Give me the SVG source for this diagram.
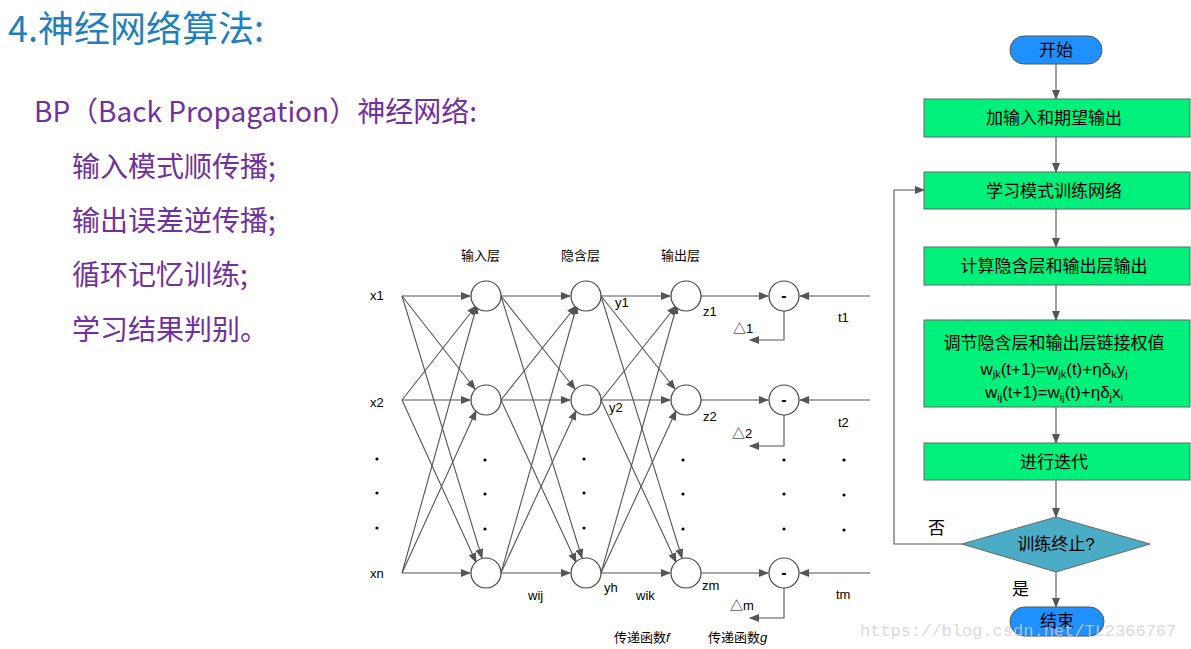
<svg xmlns="http://www.w3.org/2000/svg" width="1191" height="649" viewBox="0 0 1191 649">
<defs>
<marker id="a" markerWidth="10" markerHeight="8" refX="9" refY="4" orient="auto" markerUnits="userSpaceOnUse"><path d="M0,0 L10,4 L0,8 Z" fill="#555"/></marker>
<style>
.t{font-family:"Liberation Sans","Noto Sans CJK SC",sans-serif;fill:#000}
.s{font-size:13px}
.c{fill:#fff;stroke:#444;stroke-width:1.2}
.l{stroke:#555;stroke-width:1.1;fill:none;marker-end:url(#a)}
.b{fill:#00F07C;stroke:#666;stroke-width:1}
.f{font-size:17px;text-anchor:middle}
.p{font-family:"Noto Sans CJK SC",sans-serif;fill:#7030A0;font-size:28px}
.d{fill:#000}
</style>
</defs>
<rect width="1191" height="649" fill="#fff"/>
<text x="8" y="42" font-family="Noto Sans CJK SC,sans-serif" font-size="36" fill="#1F7FC0">4.神经网络算法:</text>
<text class="p" x="34" y="122">BP（Back Propagation）神经网络:</text>
<text class="p" x="72" y="177">输入模式顺传播;</text>
<text class="p" x="72" y="231">输出误差逆传播;</text>
<text class="p" x="72" y="285">循环记忆训练;</text>
<text class="p" x="72" y="340">学习结果判别。</text>

<g id="connectors">
<path class="l" d="M402,296 L470,296"/><path class="l" d="M402,296 L475,389"/><path class="l" d="M402,296 L482,558"/>
<path class="l" d="M402,400 L476,306"/><path class="l" d="M402,400 L470,400"/><path class="l" d="M402,400 L476,562"/>
<path class="l" d="M402,573 L477,305"/><path class="l" d="M402,573 L476,411"/><path class="l" d="M402,573 L470,573"/>
<path class="l" d="M501,296 L570,296"/><path class="l" d="M501,296 L575,389"/><path class="l" d="M501,296 L582,558"/>
<path class="l" d="M501,400 L576,306"/><path class="l" d="M501,400 L570,400"/><path class="l" d="M501,400 L576,562"/>
<path class="l" d="M501,573 L577,305"/><path class="l" d="M501,573 L576,411"/><path class="l" d="M501,573 L570,573"/>
<path class="l" d="M601,296 L670,296"/><path class="l" d="M601,296 L675,389"/><path class="l" d="M601,296 L682,558"/>
<path class="l" d="M601,400 L676,306"/><path class="l" d="M601,400 L670,400"/><path class="l" d="M601,400 L676,562"/>
<path class="l" d="M601,573 L677,305"/><path class="l" d="M601,573 L676,411"/><path class="l" d="M601,573 L670,573"/>
<path class="l" d="M701,296 L768,296"/><path class="l" d="M701,400 L768,400"/><path class="l" d="M701,573 L768,573"/>
<path class="l" d="M870,296 L800,296"/><path class="l" d="M870,400 L800,400"/><path class="l" d="M870,573 L800,573"/>
<path class="l" d="M784,311 L784,340 L750,340"/><path class="l" d="M784,415 L784,446 L750,446"/><path class="l" d="M784,588 L784,618 L750,618"/>
<path class="l" d="M1056,64 L1056,99"/><path class="l" d="M1056,137 L1056,172"/><path class="l" d="M1056,209 L1056,247"/>
<path class="l" d="M1056,285 L1056,320"/><path class="l" d="M1056,407 L1056,443"/><path class="l" d="M1056,480 L1056,517"/>
<path class="l" d="M1056,572 L1056,607"/><path class="l" d="M962,544 L894,544 L894,190 L924,190"/>
</g>

<g id="nodes">
<g id="i1"><circle class="c" cx="486" cy="296" r="15"/></g>
<g id="i2"><circle class="c" cx="486" cy="400" r="15"/></g>
<g id="i3"><circle class="c" cx="486" cy="573" r="15"/></g>
<g id="h1"><circle class="c" cx="586" cy="296" r="15"/></g>
<g id="h2"><circle class="c" cx="586" cy="400" r="15"/></g>
<g id="h3"><circle class="c" cx="586" cy="573" r="15"/></g>
<g id="o1"><circle class="c" cx="686" cy="296" r="15"/></g>
<g id="o2"><circle class="c" cx="686" cy="400" r="15"/></g>
<g id="o3"><circle class="c" cx="686" cy="573" r="15"/></g>
<g id="m1"><circle class="c" cx="784" cy="296" r="15"/><text class="t" x="784" y="301" font-size="16" font-weight="bold" text-anchor="middle">-</text></g>
<g id="m2"><circle class="c" cx="784" cy="400" r="15"/><text class="t" x="784" y="405" font-size="16" font-weight="bold" text-anchor="middle">-</text></g>
<g id="m3"><circle class="c" cx="784" cy="573" r="15"/><text class="t" x="784" y="578" font-size="16" font-weight="bold" text-anchor="middle">-</text></g>

<g id="start"><rect x="1010" y="36" width="92" height="28" rx="14" fill="#1E90FF" stroke="#555"/><text class="t f" x="1056" y="56">开始</text></g>
<g id="n1"><rect class="b" x="924" y="99" width="266" height="38"/><text class="t f" x="1054" y="124">加输入和期望输出</text></g>
<g id="n2"><rect class="b" x="924" y="172" width="266" height="37"/><text class="t f" x="1054" y="197">学习模式训练网络</text></g>
<g id="n3"><rect class="b" x="924" y="247" width="266" height="38"/><text class="t f" x="1054" y="272">计算隐含层和输出层输出</text></g>
<g id="n4"><rect class="b" x="924" y="320" width="266" height="87"/><text class="t f" x="1054" y="349">调节隐含层和输出层链接权值</text>
<text class="t f" x="1054" y="375" font-size="16">w<tspan font-size="11" dy="3">jk</tspan><tspan dy="-3">(t+1)=w</tspan><tspan font-size="11" dy="3">jk</tspan><tspan dy="-3">(t)+ηδ</tspan><tspan font-size="11" dy="3">k</tspan><tspan dy="-3">y</tspan><tspan font-size="11" dy="3">j</tspan></text>
<text class="t f" x="1054" y="398" font-size="16">w<tspan font-size="11" dy="3">ij</tspan><tspan dy="-3">(t+1)=w</tspan><tspan font-size="11" dy="3">ij</tspan><tspan dy="-3">(t)+ηδ</tspan><tspan font-size="11" dy="3">j</tspan><tspan dy="-3">x</tspan><tspan font-size="11" dy="3">i</tspan></text></g>
<g id="n5"><rect class="b" x="924" y="443" width="266" height="37"/><text class="t f" x="1054" y="468">进行迭代</text></g>
<g id="dec"><polygon points="962,544 1056,517 1150,544 1056,572" fill="#4BACC6" stroke="#666"/><text class="t f" x="1056" y="550">训练终止?</text></g>
<g id="end"><rect x="1010" y="607" width="94" height="29" rx="14.5" fill="#1E90FF" stroke="#555"/><text class="t f" x="1057" y="627">结束</text></g>
</g>

<g id="labels" class="t s">
<text x="461" y="260">输入层</text><text x="561" y="260">隐含层</text><text x="661" y="260">输出层</text>
<text x="370" y="300">x1</text><text x="370" y="407">x2</text><text x="370" y="578">xn</text>
<text x="615" y="307">y1</text><text x="609" y="412">y2</text><text x="604" y="592">yh</text>
<text x="703" y="316">z1</text><text x="703" y="421">z2</text><text x="702" y="590">zm</text>
<text x="733" y="333">△1</text><text x="732" y="438">△2</text><text x="730" y="610">△m</text>
<text x="838" y="322">t1</text><text x="838" y="427">t2</text><text x="836" y="599">tm</text>
<text x="528" y="600">wij</text><text x="636" y="600">wik</text>
<text x="614" y="642">传递函数<tspan font-style="italic">f</tspan></text><text x="708" y="642">传递函数<tspan font-style="italic">g</tspan></text>
<text x="928" y="534" font-size="17">否</text><text x="1012" y="595" font-size="17">是</text>
</g>
<g id="dots" class="d">
<circle cx="377" cy="459" r="1.6"/><circle cx="377" cy="493" r="1.6"/><circle cx="377" cy="528" r="1.6"/>
<circle cx="485" cy="460" r="1.6"/><circle cx="485" cy="494" r="1.6"/><circle cx="485" cy="529" r="1.6"/>
<circle cx="584" cy="459" r="1.6"/><circle cx="584" cy="493" r="1.6"/><circle cx="584" cy="528" r="1.6"/>
<circle cx="683" cy="460" r="1.6"/><circle cx="683" cy="494" r="1.6"/><circle cx="683" cy="529" r="1.6"/>
<circle cx="784" cy="460" r="1.6"/><circle cx="784" cy="494" r="1.6"/><circle cx="784" cy="529" r="1.6"/>
<circle cx="844" cy="460" r="1.6"/><circle cx="844" cy="495" r="1.6"/><circle cx="844" cy="530" r="1.6"/>
</g>
<text x="860" y="636" font-family="Liberation Mono,monospace" font-size="17" fill="#d0d0d0" fill-opacity="0.8">https://blog.csdn.net/TL2366767</text>
</svg>
